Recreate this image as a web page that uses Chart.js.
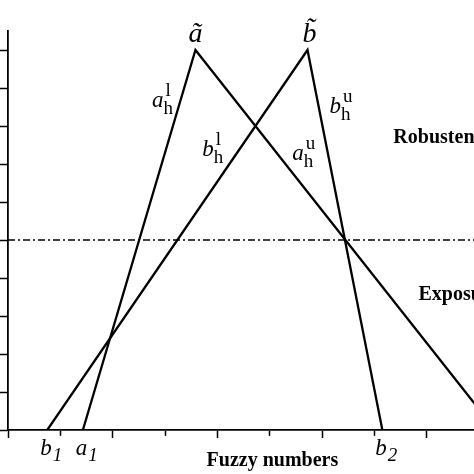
<!DOCTYPE html>
<html>
<head>
<meta charset="utf-8">
<script src="https://cdn.jsdelivr.net/npm/chart.js@4"></script>
<style>
  html, body { margin: 0; padding: 0; background: #fff; }
  #wrap { width: 474px; height: 474px; }
</style>
</head>
<body>
<div id="wrap"><canvas id="myChart"></canvas></div>
<script>
// triangular fuzzy number a~ : left foot, peak, right foot
const aX = [1.43, 3.58, 9.31];
const aY = [0, 1, 0];
// triangular fuzzy number b~
const bX = [0.75, 5.72, 7.15];
const bY = [0, 1, 0];
// h-level cut (dash-dot)
const cutX = [0, 8.9];
const cutY = [0.5, 0.5];

const xTicks = [0, 1, 2, 3, 4, 5, 6, 7, 8];
const yTicks = [0, 0.1, 0.2, 0.3, 0.4, 0.5, 0.6, 0.7, 0.8, 0.9, 1];

// labels under the x axis
const footNames = ['b', 'a', 'b'];
const footSubs = ['1', '1', '2'];
const footX = [bX[0], aX[0], bX[2]];

const toPts = (xs, ys) => xs.map((x, i) => ({ x: x, y: ys[i] }));

const SERIF = '"Liberation Serif", "Times New Roman", serif';

function subSup(ctx, base, sub, sup, x, y) {
  ctx.textAlign = 'left';
  ctx.font = 'italic 23px ' + SERIF;
  ctx.fillText(base, x, y);
  const w = ctx.measureText(base).width;
  ctx.font = '19px ' + SERIF;
  ctx.fillText(sub, x + w, y + 7);
  ctx.fillText(sup, x + w + 2, y - 11);
}

const labels = {
  id: 'labels',
  afterDraw(chart) {
    const ctx = chart.ctx;
    const xs = chart.scales.x, ys = chart.scales.y;
    const px = v => xs.getPixelForValue(v);
    const py = v => ys.getPixelForValue(v);
    ctx.save();
    ctx.fillStyle = '#000';
    ctx.textBaseline = 'alphabetic';

    // peaks
    ctx.textAlign = 'center';
    ctx.font = 'italic 28px ' + SERIF;
    ctx.fillText('\u00e3', px(aX[1]), py(1.02));
    ctx.fillText('b\u0303', px(bX[1]) + 2, py(1.02));

    // sides
    subSup(ctx, 'a', 'h', 'l', px(2.75), py(0.85));
    subSup(ctx, 'b', 'h', 'l', px(3.71), py(0.72));
    subSup(ctx, 'b', 'h', 'u', px(6.14), py(0.834));
    subSup(ctx, 'a', 'h', 'u', px(5.43), py(0.71));

    // regions
    ctx.textAlign = 'left';
    ctx.font = 'bold 20px ' + SERIF;
    ctx.fillText('Robustenness', px(7.36), py(0.755));
    ctx.fillText('Exposure', px(7.84), py(0.342));

    // feet
    const base = ys.bottom;
    footNames.forEach((n, i) => {
      const x0 = px(footX[i]) - 7;
      ctx.font = 'italic 23px ' + SERIF;
      ctx.fillText(n, x0, base + 25);
      const w = ctx.measureText(n).width;
      ctx.font = 'italic 19px ' + SERIF;
      ctx.fillText(footSubs[i], x0 + w + 1, base + 31);
    });

    // axis title
    ctx.textAlign = 'center';
    ctx.font = 'bold 20px ' + SERIF;
    ctx.fillText('Fuzzy numbers', px(5.05), base + 36);
    ctx.restore();
  }
};

const line = { showLine: true, pointRadius: 0, borderColor: '#000', borderWidth: 2.3, fill: false, tension: 0 };

new Chart(document.getElementById('myChart'), {
  type: 'scatter',
  data: {
    datasets: [
      Object.assign({ label: 'a', data: toPts(aX, aY) }, line),
      Object.assign({ label: 'b', data: toPts(bX, bY) }, line),
      Object.assign({ label: 'cut', data: toPts(cutX, cutY) }, line,
        { borderWidth: 1.5, borderDash: [7, 3, 2, 3] })
    ]
  },
  options: {
    responsive: true,
    maintainAspectRatio: false,
    animation: false,
    layout: { padding: { top: 31, bottom: 36, left: 0, right: 0 } },
    plugins: { legend: { display: false }, tooltip: { enabled: false } },
    scales: {
      x: {
        type: 'linear', min: 0, max: 8.9,
        afterBuildTicks: s => { s.ticks = xTicks.map(v => ({ value: v })); },
        ticks: { display: false },
        border: { color: '#000', width: 1.8 },
        grid: {
          drawOnChartArea: false, drawTicks: true, tickLength: 8,
          tickColor: '#000', tickWidth: 1.5,
          tickBorderDash: c => (c.index % 2 ? [5, 100] : [])
        }
      },
      y: {
        type: 'linear', min: 0, max: 1.05,
        afterBuildTicks: s => { s.ticks = yTicks.map(v => ({ value: v })); },
        ticks: { display: false },
        border: { color: '#000', width: 1.8 },
        grid: { drawOnChartArea: false, drawTicks: true, tickLength: 8, tickColor: '#000', tickWidth: 1.5 }
      }
    }
  },
  plugins: [labels]
});
</script>
</body>
</html>
